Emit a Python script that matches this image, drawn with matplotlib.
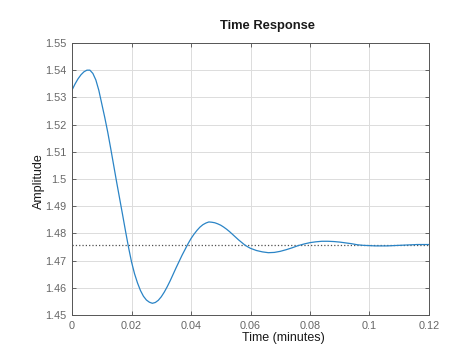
import numpy as np
import matplotlib.pyplot as plt

plt.rcParams['font.family'] = ['Liberation Sans', 'DejaVu Sans']

# time (minutes) and response values
t = [0.000, 0.001, 0.002, 0.003, 0.004, 0.005, 0.006, 0.007, 0.008, 0.009,
     0.010, 0.011, 0.012, 0.013, 0.014, 0.015, 0.016, 0.017, 0.018, 0.019,
     0.020, 0.021, 0.022, 0.023, 0.024, 0.025, 0.026, 0.027, 0.028, 0.029,
     0.030, 0.031, 0.032, 0.033, 0.034, 0.035, 0.036, 0.037, 0.038, 0.039,
     0.040, 0.041, 0.042, 0.043, 0.044, 0.045, 0.046, 0.047, 0.048, 0.049,
     0.050, 0.051, 0.052, 0.053, 0.054, 0.055, 0.056, 0.057, 0.058, 0.059,
     0.060, 0.062, 0.064, 0.066, 0.068, 0.070, 0.072, 0.074, 0.076, 0.078,
     0.080, 0.082, 0.084, 0.086, 0.088, 0.090, 0.092, 0.094, 0.096, 0.098,
     0.100, 0.102, 0.104, 0.106, 0.108, 0.110, 0.112, 0.114, 0.116, 0.118,
     0.120]
amp = [1.5327, 1.5349, 1.5368, 1.5383, 1.5394, 1.5400, 1.5400, 1.5388, 1.5364, 1.5326,
       1.5276, 1.5226, 1.5172, 1.5112, 1.5050, 1.4988, 1.4928, 1.4868, 1.4807, 1.4748,
       1.4695, 1.4652, 1.4618, 1.4590, 1.4569, 1.4555, 1.4547, 1.4543, 1.4546, 1.4554,
       1.4567, 1.4584, 1.4604, 1.4626, 1.4650, 1.4674, 1.4697, 1.4720, 1.4741, 1.4762,
       1.4781, 1.4797, 1.4811, 1.4823, 1.4832, 1.4838, 1.4842, 1.4841, 1.4839, 1.4835,
       1.4830, 1.4823, 1.4815, 1.4806, 1.4796, 1.4786, 1.4776, 1.4767, 1.4758, 1.4751,
       1.4745, 1.4737, 1.4732, 1.4729, 1.4730, 1.4734, 1.4740, 1.4747, 1.4755, 1.4761,
       1.4766, 1.4769, 1.4771, 1.4771, 1.4770, 1.4768, 1.4765, 1.4762, 1.4758, 1.4756,
       1.4755, 1.4754, 1.4754, 1.4754, 1.4755, 1.4756, 1.4757, 1.4758, 1.4759, 1.4759,
       1.4759]
steady = 1.4757

xticks = [0, 0.02, 0.04, 0.06, 0.08, 0.1, 0.12]
xlabels = ['0', '0.02', '0.04', '0.06', '0.08', '0.1', '0.12']
yticks = [1.45, 1.46, 1.47, 1.48, 1.49, 1.5, 1.51, 1.52, 1.53, 1.54, 1.55]
ylabels = ['1.45', '1.46', '1.47', '1.48', '1.49', '1.5', '1.51', '1.52', '1.53', '1.54', '1.55']

fig = plt.figure(figsize=(4.74, 3.55), dpi=100)
ax = fig.add_axes([0.152, 0.1127, 0.753, 0.7663])

ax.plot([0, 0.12], [steady, steady], ':', color='#505050', lw=0.9)
ax.plot(t, amp, color='#2a84c6', lw=0.9)

ax.set_xlim(0, 0.12)
ax.set_ylim(1.45, 1.55)
ax.set_xticks(xticks)
ax.set_xticklabels(xlabels)
ax.set_yticks(yticks)
ax.set_yticklabels(ylabels)

ax.grid(True, color='#dcdcdc', lw=0.7)
ax.set_axisbelow(True)
ax.tick_params(direction='in', length=3, width=0.6, color='#4d4d4d',
               labelsize=7.8, labelcolor='#666666', top=True, right=True, pad=4)
for s in ax.spines.values():
    s.set_color('#555555')
    s.set_linewidth(0.7)

fig.text(0.565, 0.927, 'Time Response', ha='center', va='center',
         fontsize=9.3, fontweight='bold', color='#1a1a1a')
fig.text(0.597, 0.048, 'Time (minutes)', ha='center', va='center',
         fontsize=9, color='#1a1a1a')
fig.text(0.083, 0.49, 'Amplitude', ha='center', va='center', rotation=90,
         fontsize=9, color='#1a1a1a')

fig.savefig('out.png', dpi=100)
